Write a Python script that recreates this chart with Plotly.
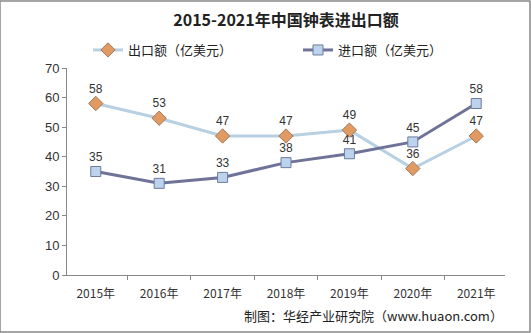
import plotly.graph_objects as go

years = ["2015年", "2016年", "2017年", "2018年", "2019年", "2020年", "2021年"]
export_vals = [58, 53, 47, 47, 49, 36, 47]
import_vals = [35, 31, 33, 38, 41, 45, 58]
y_ticks = [0, 10, 20, 30, 40, 50, 60, 70]

W, H = 531, 333
ml, mr, mt, mb = 67, 26, 68, 58

font_cn = "Noto Sans CJK SC, Liberation Sans, Arial, sans-serif"

fig = go.Figure()
fig.add_trace(go.Scatter(
    x=years, y=export_vals, name="出口额（亿美元）",
    mode="lines+markers+text", text=[str(v) for v in export_vals],
    textposition="top center", textfont=dict(size=12, color="#333333", family="Liberation Sans, Arial"),
    line=dict(color="#B7D0E2", width=3),
    marker=dict(symbol="diamond", size=11, color="#E29A63", line=dict(color="#A0785A", width=1)),
    cliponaxis=False,
))
fig.add_trace(go.Scatter(
    x=years, y=import_vals, name="进口额（亿美元）",
    mode="lines+markers+text", text=[str(v) for v in import_vals],
    textposition="top center", textfont=dict(size=12, color="#333333", family="Liberation Sans, Arial"),
    line=dict(color="#6F7398", width=3),
    marker=dict(symbol="square", size=10, color="#BCD3EE", line=dict(color="#6F7A9E", width=1)),
    cliponaxis=False,
))

fig.update_layout(
    width=W, height=H,
    margin=dict(l=ml, r=mr, t=mt, b=mb),
    paper_bgcolor="white", plot_bgcolor="white",
    title=dict(text="<b>2015-2021年中国钟表进出口额</b>", x=0.5, xref="paper", xanchor="center",
               y=1 - 20 / H, yref="container", yanchor="middle",
               font=dict(size=16, color="#222222", family=font_cn)),
    showlegend=True,
    legend=dict(orientation="h", x=(88 - ml) / (W - ml - mr), xanchor="left",
                y=1 + (68 - 50) / (H - mt - mb), yanchor="middle",
                font=dict(size=13, color="#222222", family=font_cn),
                entrywidth=165, entrywidthmode="pixels",
                bgcolor="rgba(0,0,0,0)"),
    font=dict(family=font_cn, color="#333333"),
)
fig.update_xaxes(
    type="category", showline=True, linecolor="#888888", linewidth=1,
    ticks="outside", tickson="boundaries", ticklen=4, tickcolor="#888888",
    showgrid=False, zeroline=False, ticklabelstandoff=8,
    tickfont=dict(size=12, color="#333333", family=font_cn),
)
fig.update_yaxes(
    range=[0, 70], tickvals=y_ticks, showline=True, linecolor="#888888", linewidth=1,
    ticks="outside", ticklen=4, tickcolor="#888888", showgrid=False, zeroline=False,
    tickfont=dict(size=13, color="#333333", family="Liberation Sans, Arial"),
)

fig.add_annotation(text="制图：华经产业研究院（www.huaon.com）", xref="paper", yref="paper",
                   x=1, xanchor="right", y=-(315 - 275) / (H - mt - mb), yanchor="middle",
                   showarrow=False, font=dict(size=13, color="#222222", family=font_cn))

fig.add_shape(type="rect", xref="paper", yref="paper",
              x0=-ml / (W - ml - mr), x1=1 + (mr - 1) / (W - ml - mr),
              y0=-(mb - 1) / (H - mt - mb), y1=1 + (mt - 1) / (H - mt - mb),
              line=dict(color="#888888", width=1.5), fillcolor="rgba(0,0,0,0)", layer="below")

fig.write_html("out.html")
